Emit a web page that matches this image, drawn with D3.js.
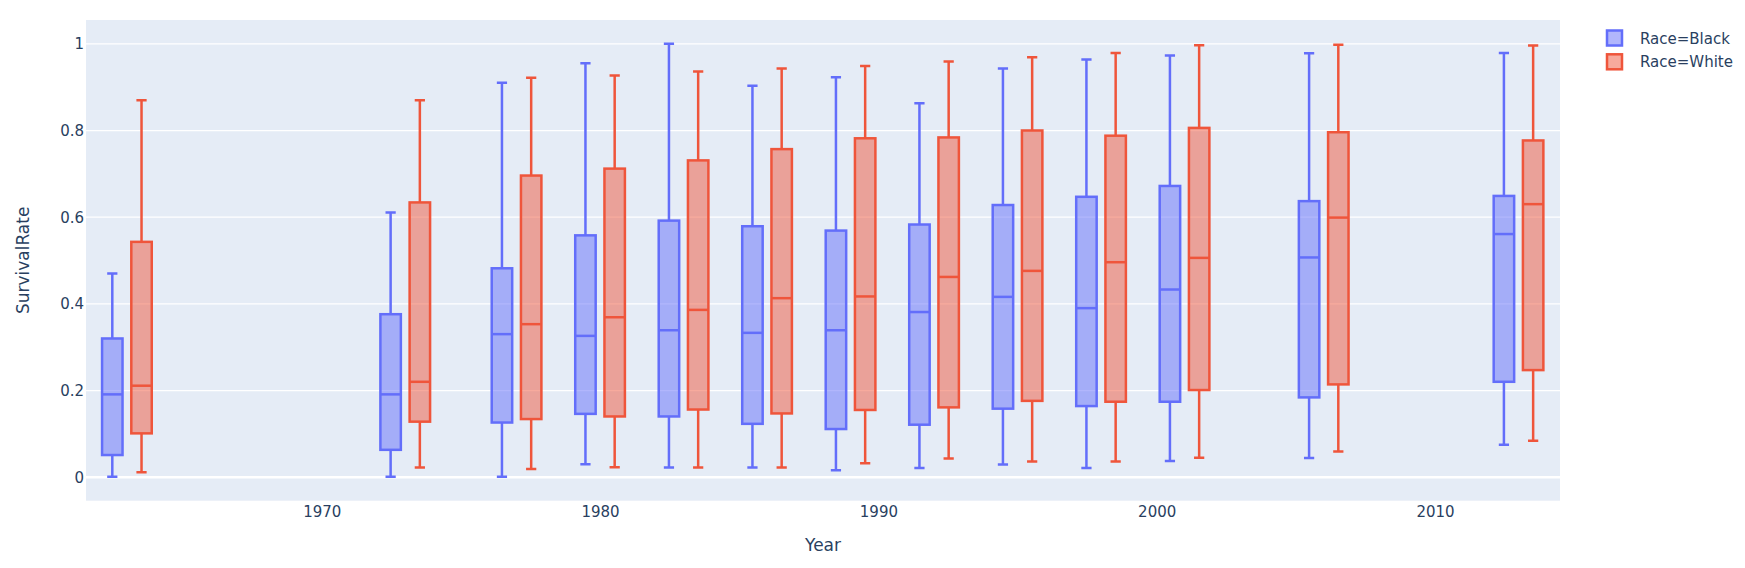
<!DOCTYPE html>
<html>
<head>
<meta charset="utf-8">
<script src="https://cdn.jsdelivr.net/npm/d3@7"></script>
<style>
  body { margin: 0; background: #fff; }
  svg { font-family: "DejaVu Sans", verdana, arial, sans-serif; }
</style>
</head>
<body>
<div id="viz"></div>
<script>
// values
var years = [1963, 1973, 1977, 1980, 1983, 1986, 1989, 1992, 1995, 1998, 2001, 2006, 2013];

var blackLow  = [0.000, 0.000, 0.000, 0.029, 0.021, 0.021, 0.015, 0.020, 0.028, 0.020, 0.036, 0.043, 0.074];
var blackQ1   = [0.050, 0.062, 0.125, 0.145, 0.139, 0.122, 0.110, 0.120, 0.157, 0.163, 0.173, 0.183, 0.219];
var blackMed  = [0.190, 0.190, 0.329, 0.325, 0.338, 0.332, 0.338, 0.380, 0.415, 0.389, 0.432, 0.506, 0.560];
var blackQ3   = [0.319, 0.375, 0.481, 0.557, 0.591, 0.578, 0.568, 0.582, 0.627, 0.646, 0.671, 0.636, 0.648];
var blackHigh = [0.469, 0.610, 0.909, 0.954, 0.999, 0.902, 0.922, 0.862, 0.942, 0.963, 0.972, 0.977, 0.978];

var whiteLow  = [0.010, 0.021, 0.018, 0.022, 0.021, 0.021, 0.031, 0.042, 0.035, 0.035, 0.044, 0.058, 0.083];
var whiteQ1   = [0.100, 0.127, 0.133, 0.139, 0.155, 0.146, 0.154, 0.160, 0.175, 0.173, 0.200, 0.213, 0.246];
var whiteMed  = [0.210, 0.219, 0.352, 0.368, 0.385, 0.412, 0.416, 0.461, 0.475, 0.495, 0.505, 0.598, 0.629];
var whiteQ3   = [0.542, 0.633, 0.695, 0.711, 0.730, 0.756, 0.781, 0.783, 0.799, 0.787, 0.805, 0.795, 0.776];
var whiteHigh = [0.869, 0.869, 0.921, 0.926, 0.935, 0.942, 0.948, 0.958, 0.968, 0.978, 0.996, 0.997, 0.995];

var yTicks = [0, 0.2, 0.4, 0.6, 0.8, 1];
var xTicks = [1970, 1980, 1990, 2000, 2010];

var W = 1745, H = 568;
var plotL = 86, plotR = 1560, plotT = 20, plotB = 500.7;
var lw = 2.5; // box / whisker stroke
var font = '"DejaVu Sans", verdana, arial, sans-serif';

var svg = d3.select("#viz").append("svg")
    .attr("width", W)
    .attr("height", H);

var x = d3.scaleLinear().domain([1961.53, 2014.49]).range([plotL, plotR]);
var y = d3.scaleLinear().domain([-0.0554, 1.054]).range([plotB, plotT]);

svg.append("rect")
    .attr("x", plotL).attr("y", plotT)
    .attr("width", plotR - plotL).attr("height", plotB - plotT)
    .attr("fill", "#E5ECF6");

// horizontal grid
svg.append("g")
    .attr("transform", "translate(" + plotL + ",0)")
    .call(d3.axisLeft(y).tickValues(yTicks).tickSize(-(plotR - plotL)).tickFormat(function(d){ return d; }))
    .call(function(g){
      g.select(".domain").remove();
      g.selectAll(".tick line")
        .attr("stroke", "#fff")
        .attr("stroke-width", function(d){ return d === 0 ? 2.5 : 1.25; });
      g.selectAll(".tick text")
        .attr("x", -2)
        .attr("dy", "0.36em")
        .attr("fill", "#2a3f5f")
        .style("font-size", "15px")
        .style("font-family", font);
    });

svg.append("g")
    .attr("transform", "translate(0," + plotB + ")")
    .call(d3.axisBottom(x).tickValues(xTicks).tickSize(0).tickFormat(d3.format("d")))
    .call(function(g){
      g.select(".domain").remove();
      g.selectAll(".tick text")
        .attr("y", 16)
        .attr("dy", 0)
        .attr("fill", "#2a3f5f")
        .style("font-size", "15px")
        .style("font-family", font);
    });

svg.append("text")
    .attr("x", (plotL + plotR) / 2).attr("y", 551)
    .attr("text-anchor", "middle")
    .attr("fill", "#2a3f5f")
    .style("font-size", "17px")
    .text("Year");

svg.append("text")
    .attr("transform", "translate(29," + ((plotT + plotB) / 2) + ") rotate(-90)")
    .attr("text-anchor", "middle")
    .attr("fill", "#2a3f5f")
    .style("font-size", "17px")
    .text("SurvivalRate");

var series = [
  {name: "Race=Black", color: "#636efa", fill: "rgba(99,110,250,0.5)", shift: -0.525,
   low: blackLow, q1: blackQ1, med: blackMed, q3: blackQ3, high: blackHigh},
  {name: "Race=White", color: "#EF553B", fill: "rgba(239,85,59,0.5)", shift: 0.525,
   low: whiteLow, q1: whiteQ1, med: whiteMed, q3: whiteQ3, high: whiteHigh}
];

var half = 0.3675; // half box width in years

series.forEach(function(s){
  var rows = years.map(function(yr, i){
    return {yr: yr, low: s.low[i], q1: s.q1[i], med: s.med[i], q3: s.q3[i], high: s.high[i]};
  });
  var g = svg.append("g").selectAll("g").data(rows).enter().append("g");

  // whiskers
  g.append("path")
      .attr("d", function(d){
        var c = x(d.yr + s.shift);
        var cw = x(d.yr + s.shift + half / 2) - c;
        return "M" + c + "," + y(d.q1) + "V" + y(d.low) +
               "M" + (c - cw) + "," + y(d.low) + "H" + (c + cw) +
               "M" + c + "," + y(d.q3) + "V" + y(d.high) +
               "M" + (c - cw) + "," + y(d.high) + "H" + (c + cw);
      })
      .attr("fill", "none")
      .attr("stroke", s.color)
      .attr("stroke-width", lw);

  g.append("rect")
      .attr("x", function(d){ return x(d.yr + s.shift - half); })
      .attr("width", function(d){ return x(d.yr + s.shift + half) - x(d.yr + s.shift - half); })
      .attr("y", function(d){ return y(d.q3); })
      .attr("height", function(d){ return y(d.q1) - y(d.q3); })
      .attr("fill", s.fill)
      .attr("stroke", s.color)
      .attr("stroke-width", lw);

  g.append("line")
      .attr("x1", function(d){ return x(d.yr + s.shift - half); })
      .attr("x2", function(d){ return x(d.yr + s.shift + half); })
      .attr("y1", function(d){ return y(d.med); })
      .attr("y2", function(d){ return y(d.med); })
      .attr("stroke", s.color)
      .attr("stroke-width", lw);
});

// legend
var legend = svg.append("g").selectAll("g")
    .data(series).enter().append("g")
    .attr("transform", function(d, i){ return "translate(1614.5," + (38 + i * 23.8) + ")"; });

legend.append("rect")
    .attr("x", -7.5).attr("y", -7.5)
    .attr("width", 15).attr("height", 15)
    .attr("fill", function(d){ return d.fill; })
    .attr("stroke", function(d){ return d.color; })
    .attr("stroke-width", lw);

legend.append("text")
    .attr("x", 25.5).attr("y", 5.5)
    .attr("fill", "#2a3f5f")
    .style("font-size", "15px")
    .text(function(d){ return d.name; });
</script>
</body>
</html>
